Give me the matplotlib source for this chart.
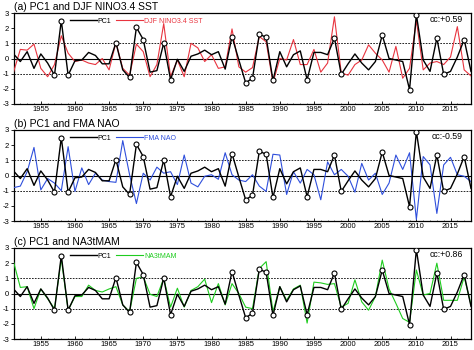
import numpy as np
import matplotlib
matplotlib.use('Agg')
import matplotlib.pyplot as plt
from matplotlib.ticker import MultipleLocator

matplotlib.rcParams['font.family'] = 'Liberation Sans'
matplotlib.rcParams['axes.unicode_minus'] = False

years = np.arange(1951, 2019)

pc1 = [0.3, -0.2, 0.45, -0.65, 0.3, -0.3, -1.1, 2.5, -1.1, -0.15,
       -0.1, 0.4, 0.2, -0.35, -0.35, 1.05, -0.75, -1.25, 2.05, 1.25,
       -0.9, -0.8, 1.02, -1.4, -0.05, -0.85, 0.15, 0.3, 0.55, 0.25,
       0.45, -0.7, 1.45, -0.1, -1.6, -1.3, 1.6, 1.4, -1.45, 0.45,
       -0.55, 0.25, 0.5, -1.4, 0.4, 0.4, 0.25, 1.35, -1.05, -0.35,
       0.3, -0.3, -0.75, -0.2, 1.55, 0.0, -0.1, -0.2, -2.05, 2.9,
       -0.1, -0.85, 1.35, -1.05, -0.85, 0.1, 1.25, -0.85]

nino34 = [-0.9, 0.6, 0.55, 0.95, -0.65, -1.2, -0.4, 1.5, 0.35, -0.2,
          -0.1, -0.3, -0.4, 0.0, -0.75, 1.05, -0.65, -1.1, 0.95, 0.45,
          -1.2, -0.4, 2.3, -1.2, -0.1, -1.2, 1.0, 0.7, -0.2, 0.25,
          -0.65, -0.55, 1.95, -0.55, -0.9, -0.6, 1.45, 1.1, -1.6, 0.0,
          -0.1, 1.25, -0.4, -0.4, 0.6, -0.9, -0.3, 2.75, -0.95, -1.1,
          -0.4, -0.1, 0.9, 0.35, -0.1, -0.9, 0.8, -1.3, -0.65, 2.5,
          -0.75, -0.3, -0.2, -0.4, 0.1, 2.1, -0.75, -1.15]

nao = [-0.8, -0.7, 0.25, 1.85, -0.95, -0.2, -0.5, -1.0, 1.9, -1.05,
       0.5, -0.6, 0.15, -0.3, -0.4, -0.45, 2.3, 0.05, -1.85, 0.15,
       -0.3, 0.55, 0.15, 0.25, -0.6, 1.35, -0.5, -0.75, -0.05, 0.05,
       -0.25, 1.5, 0.05, -0.3, -0.4, 0.05, -0.7, -1.05, 1.4, 1.35,
       -1.25, 0.25, -0.5, 0.4, 0.05, -1.6, 0.9, 0.05, 0.4, -0.05,
       -1.1, 0.8, -0.3, 0.15, -1.25, -0.5, 1.35, 0.4, 1.5, -2.9,
       1.25, 0.7, -2.5, 0.7, 1.2, 0.05, -0.05, -0.4]

na3t = [2.1, 0.4, 0.45, -1.0, 0.3, -0.35, -1.0, 2.3, -1.1, -0.2,
        -0.2, 0.55, 0.2, 0.1, 0.3, 0.45, -0.75, -1.2, 1.0, 1.1,
        -0.05, -0.2, 1.0, -0.9, 0.35, -0.9, 0.2, 0.45, 0.95, -0.6,
        0.65, -0.75, 0.65, 0.0, -0.9, -1.0, 1.65, 2.1, -1.2, 0.45,
        -0.45, 0.3, 0.55, -1.95, 0.75, 0.7, 0.6, 0.65, -0.9, -0.65,
        0.9, -0.55, -1.1, -0.2, 2.2, 0.3, -0.65, -1.65, -1.9, 1.55,
        -0.1, 0.0, 2.0, -0.45, -0.45, -0.45, 1.1, -0.75]

panels = [
    ('(a) PC1 and DJF NINO3.4 SST', 'DJF NINO3.4 SST', nino34, '#e8343f', 'cc:+0.59'),
    ('(b) PC1 and FMA NAO', 'FMA NAO', nao, '#2f4fdc', 'cc:-0.59'),
    ('(c) PC1 and NA3tMAM', 'NA3tMAM', na3t, '#1fcc1f', 'cc:+0.86'),
]

fig = plt.figure(figsize=(4.74, 3.5), dpi=100)
tops = [13, 130, 248]
pc1 = np.array(pc1)
big = np.abs(pc1) > 1.0

for (title, name, series, color, cc), top in zip(panels, tops):
    ax = fig.add_axes([13.5 / 474, 1 - (top + 91) / 350, 457.5 / 474, 91 / 350])
    ax.axhline(0, color='black', lw=0.8)
    ax.axhline(1, color='black', lw=0.6, ls=(0, (2, 1.5)))
    ax.axhline(-1, color='black', lw=0.6, ls=(0, (2, 1.5)))
    l1, = ax.plot(years, pc1, color='black', lw=1.0, zorder=4, label='PC1')
    l2, = ax.plot(years, series, color=color, lw=0.8, zorder=3, label=name)
    ax.plot(years[big], pc1[big], ls='none', marker='o', ms=3.6,
            mfc='white', mec='black', mew=0.8, zorder=5)
    ax.set_xlim(1951, 2018)
    ax.set_ylim(-3, 3)
    ax.xaxis.set_minor_locator(MultipleLocator(1))
    ax.yaxis.set_major_locator(MultipleLocator(1))
    ax.set_xticks(np.arange(1955, 2016, 5))
    ax.tick_params(axis='y', which='major', labelsize=5.5, length=2, width=0.6, pad=1.2)
    ax.tick_params(axis='x', which='major', labelsize=5.5, length=2, width=0.6,
                   pad=1.5, direction='in')
    ax.tick_params(axis='x', which='minor', length=1, width=0.4, direction='in')
    for s in ax.spines.values():
        s.set_linewidth(0.9)
    ax.set_title(title, loc='left', fontsize=7.5, pad=2.5)
    ax.legend(handles=[l1, l2], loc='center left', bbox_to_anchor=(0.1225, 0.912),
              ncol=2, frameon=False, fontsize=5, handlelength=3.9,
              handletextpad=0.15, columnspacing=0.7, borderpad=0,
              borderaxespad=0, labelcolor=['black', color])
    ax.text(0.982, 0.93, cc, transform=ax.transAxes, ha='right', va='center',
            fontsize=6.3)

fig.savefig('out.png', dpi=100)
